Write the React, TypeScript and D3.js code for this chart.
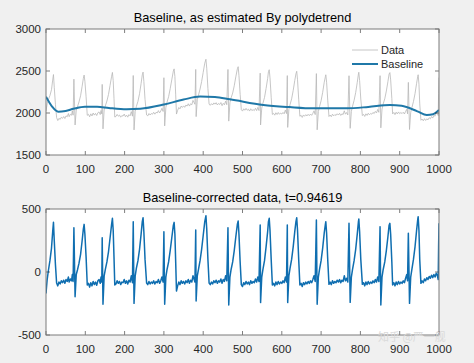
import React from 'react';
import * as d3 from 'd3';

// Baseline-corrected ECG-like signal, keypoints [sample, value]
const corrected: [number, number][] = [
  [0, -170], [3, -60], [6, 10], [10, 90], [14, 190], [17, 320], [19, 394], [21, 250], [24, 60], [27, -87],
  [30, -110], [33, -80], [36, -95], [39, -70], [42, -85], [45, -65], [48, -90], [51, -60], [54, -75], [57, -40], [59, -80], [62, -55], [65, -70], [67, -20], [69, -75],
  [71, 352], [74, -196], [77, -20], [80, 16], [84, 70], [88, 140], [92, 250], [95, 340], [97, 378], [99, 300], [102, 120], [105, -103],
  [108, -90], [111, -120], [114, -85], [117, -110], [120, -75], [123, -100], [126, -80], [129, -105], [132, -70], [135, -60], [138, -90], [140, -40], [142, -80],
  [143, 272], [145, -256], [148, -30], [151, 20], [155, 80], [159, 160], [163, 270], [167, 380], [169, 426], [171, 330], [173, 120], [175, -103],
  [178, -95], [181, -70], [184, -90], [187, -75], [190, -100], [193, -80], [196, -85], [199, -60], [202, -90], [205, -70], [208, -95], [211, -65], [214, -80], [217, -30], [220, -85],
  [222, 399], [224, -249], [227, -30], [230, 30], [234, 90], [238, 180], [242, 300], [245, 400], [247, 431], [249, 320], [252, 100], [256, -87],
  [259, -100], [262, -75], [265, -95], [268, -80], [271, -90], [274, -70], [277, -95], [280, -75], [283, -85], [286, -60], [289, -90], [292, -70], [295, -40], [298, -80],
  [300, 320], [302, -256], [305, -40], [308, 20], [312, 80], [316, 170], [320, 270], [324, 370], [326, 394], [328, 300], [330, 80], [332, -151],
  [335, -110], [338, -80], [341, -100], [344, -70], [347, -90], [350, -75], [353, -95], [356, -70], [359, -85], [362, -60], [365, -90], [368, -65], [371, -80], [374, -30], [377, -60], [379, -80],
  [381, 333], [382, -230], [385, -30], [388, 20], [392, 90], [396, 180], [400, 290], [404, 400], [407, 447], [409, 340], [412, 100], [415, -87],
  [418, -100], [421, -80], [424, -95], [427, -70], [430, -85], [433, -65], [436, -90], [439, -70], [442, -80], [445, -55], [448, -90], [451, -60], [454, -75], [457, -30], [460, -70],
  [463, 352], [465, -262], [468, -40], [471, 20], [475, 80], [479, 170], [483, 280], [487, 380], [489, 405], [491, 300], [494, 80], [497, -100],
  [500, -115], [503, -85], [506, -100], [509, -75], [512, -95], [515, -80], [518, -100], [521, -70], [524, -90], [527, -75], [530, -85], [533, -55], [536, -80], [539, -40], [542, -75],
  [545, 373], [546, -243], [549, -40], [552, 20], [556, 90], [560, 200], [564, 320], [566, 400], [568, 426], [570, 330], [573, 100], [576, -103],
  [579, -90], [582, -110], [585, -80], [588, -100], [591, -75], [594, -95], [597, -80], [600, -90], [603, -70], [606, -85], [609, -40], [612, -80],
  [614, 373], [615, -243], [618, -30], [621, 30], [625, 100], [629, 200], [633, 320], [636, 400], [638, 431], [640, 330], [643, 100], [646, -103],
  [649, -90], [652, -115], [655, -85], [658, -100], [661, -80], [664, -95], [667, -75], [670, -90], [673, -70], [676, -85], [679, -60], [682, -30], [685, -75],
  [688, 413], [690, -256], [693, -40], [696, 20], [700, 90], [704, 190], [708, 310], [711, 380], [712, 399], [714, 310], [717, 90], [720, -98],
  [723, -80], [726, -100], [729, -70], [732, -90], [735, -75], [738, -85], [741, -65], [744, -80], [747, -60], [750, -85], [753, -65], [756, -75], [759, -30], [762, -70], [765, -50], [768, -80],
  [771, 386], [774, -241], [777, -40], [780, 20], [784, 90], [788, 180], [792, 300], [795, 400], [796, 420], [798, 320], [801, 100], [805, -98],
  [808, -85], [811, -110], [814, -80], [817, -100], [820, -75], [823, -95], [826, -80], [829, -90], [832, -70], [835, -85], [838, -60], [841, -80], [844, -40], [847, -75],
  [850, 360], [852, -262], [855, -40], [858, 20], [862, 80], [866, 170], [870, 280], [873, 370], [875, 386], [877, 300], [880, 80], [882, -103],
  [885, -85], [888, -110], [891, -80], [894, -100], [897, -75], [900, -95], [903, -80], [906, -90], [909, -70], [912, -85], [915, -50], [918, -20], [920, -70],
  [922, 307], [925, -249], [928, -40], [931, 20], [935, 100], [939, 200], [943, 330], [946, 420], [947, 439], [949, 330], [951, 100], [954, -90],
  [957, -70], [960, -85], [963, -55], [966, -70], [969, -45], [972, -60], [975, -35], [978, -50], [981, -25], [984, -45], [987, -20], [990, -40], [993, -10], [996, -30], [998, -60],
  [999, 200], [1000, 386],
];

// Estimated baseline (upper panel, blue curve)
const baselineX = [0, 15, 31, 50, 70, 99, 130, 160, 205, 240, 300, 350, 392, 430, 468, 553, 620, 680, 765, 820, 875, 905, 945, 969, 985, 1000];
const baselineY = [2194, 2080, 2016, 2025, 2050, 2075, 2075, 2060, 2045, 2050, 2100, 2160, 2195, 2190, 2163, 2095, 2070, 2056, 2056, 2072, 2095, 2085, 2020, 1976, 1985, 2036];

const xTicks = [0, 100, 200, 300, 400, 500, 600, 700, 800, 900, 1000];
const topYTicks = [1500, 2000, 2500, 3000];
const bottomYTicks = [-500, 0, 500];

const topTitle = 'Baseline, as estimated By polydetrend';
const bottomTitle = 'Baseline-corrected data, t=0.94619';

const W = 474;
const H = 363;
const FONT = '"Liberation Sans", Arial, Helvetica, sans-serif';

const left = 46;
const right = 439;
const topPanel = { y0: 29, y1: 155 };
const botPanel = { y0: 209, y1: 335 };

const xScale = d3.scaleLinear().domain([0, 1000]).range([left, right]);
const yTop = d3.scaleLinear().domain([1500, 3000]).range([topPanel.y1, topPanel.y0]);
const yBot = d3.scaleLinear().domain([-500, 500]).range([botPanel.y1, botPanel.y0]);

// raw data = corrected + baseline
const baselineAt = d3.scaleLinear().domain(baselineX).range(baselineY);
const rawData: [number, number][] = corrected.map(([x, v]) => [x, v + baselineAt(x)]);
const baseline: [number, number][] = baselineX.map((x, i) => [x, baselineY[i]]);

const Axes: React.FC<{
  y: d3.ScaleLinear<number, number>;
  yTicks: number[];
  y0: number;
  y1: number;
  title: string;
  clipId: string;
  children: React.ReactNode;
}> = ({ y, yTicks, y0, y1, title, clipId, children }) => {
  const tick = 4;
  return (
    <g>
      <defs>
        <clipPath id={clipId}>
          <rect x={left} y={y0} width={right - left} height={y1 - y0} />
        </clipPath>
      </defs>
      <rect x={left} y={y0} width={right - left} height={y1 - y0} fill="#ffffff" />
      <g clipPath={`url(#${clipId})`}>{children}</g>
      {/* ticks on all four sides, pointing in */}
      {xTicks.map((t) => (
        <g key={'x' + t} stroke="#262626" strokeWidth={0.6}>
          <line x1={xScale(t)} x2={xScale(t)} y1={y1} y2={y1 - tick} />
          <line x1={xScale(t)} x2={xScale(t)} y1={y0} y2={y0 + tick} />
        </g>
      ))}
      {yTicks.map((t) => (
        <g key={'y' + t} stroke="#262626" strokeWidth={0.6}>
          <line x1={left} x2={left + tick} y1={y(t)} y2={y(t)} />
          <line x1={right} x2={right - tick} y1={y(t)} y2={y(t)} />
        </g>
      ))}
      <rect x={left} y={y0} width={right - left} height={y1 - y0} fill="none" stroke="#7a7a7a" strokeWidth={1} />
      {xTicks.map((t) => (
        <text key={'xl' + t} x={xScale(t)} y={y1 + 18} textAnchor="middle" fontSize={11.5} fill="#262626" fontFamily={FONT}>
          {t}
        </text>
      ))}
      {yTicks.map((t) => (
        <text key={'yl' + t} x={left - 5} y={y(t) + 4} textAnchor="end" fontSize={11.5} fill="#262626" fontFamily={FONT}>
          {t}
        </text>
      ))}
      <text x={(left + right) / 2} y={y0 - 7} textAnchor="middle" fontSize={12.8} fill="#000" fontFamily={FONT}>
        {title}
      </text>
    </g>
  );
};

export default function App() {
  const lineTop = d3.line<[number, number]>().x((d) => xScale(d[0])).y((d) => yTop(d[1]));
  const lineBase = d3
    .line<[number, number]>()
    .x((d) => xScale(d[0]))
    .y((d) => yTop(d[1]))
    .curve(d3.curveMonotoneX);
  const lineBot = d3.line<[number, number]>().x((d) => xScale(d[0])).y((d) => yBot(d[1]));

  return (
    <svg
      width={W}
      height={H}
      viewBox={`0 0 ${W} ${H}`}
      style={{ position: 'fixed', left: 0, top: 0, display: 'block' }}
    >
      <rect x={0} y={0} width={W} height={H} fill="#f0f0f0" />

      <Axes y={yTop} yTicks={topYTicks} y0={topPanel.y0} y1={topPanel.y1} title={topTitle} clipId="clipTop">
        <path d={lineTop(rawData) || ''} fill="none" stroke="#b8b8b8" strokeWidth={0.8} />
        <path d={lineBase(baseline) || ''} fill="none" stroke="#1f78a8" strokeWidth={2} />
      </Axes>

      {/* legend, no box */}
      <g fontFamily={FONT} fontSize={11} fill="#262626">
        <line x1={352} x2={378} y1={50} y2={50} stroke="#b8b8b8" strokeWidth={0.8} />
        <text x={381} y={54}>Data</text>
        <line x1={352} x2={378} y1={64} y2={64} stroke="#1f78a8" strokeWidth={2} />
        <text x={381} y={68}>Baseline</text>
      </g>

      <Axes y={yBot} yTicks={bottomYTicks} y0={botPanel.y0} y1={botPanel.y1} title={bottomTitle} clipId="clipBot">
        <path d={lineBot(corrected) || ''} fill="none" stroke="#0f6eb0" strokeWidth={1.5} strokeLinejoin="round" />
      </Axes>

      <text x={378} y={341} fontSize={11} fill="#dadada" fontFamily='"Noto Sans CJK SC", sans-serif'>
        知乎 @严一舰
      </text>
    </svg>
  );
}
